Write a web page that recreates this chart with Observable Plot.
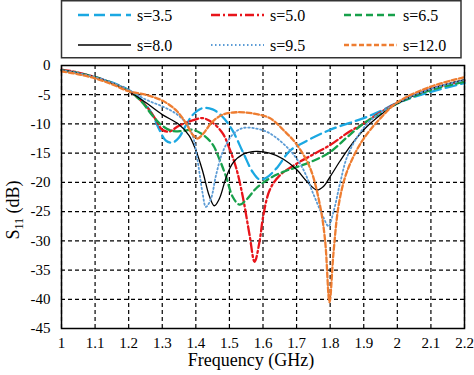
<!DOCTYPE html>
<html><head><meta charset="utf-8">
<script src="https://cdn.jsdelivr.net/npm/d3@7"></script>
<script src="https://cdn.jsdelivr.net/npm/@observablehq/plot@0.6"></script>
<style>
body{margin:0;background:#fff;}
#wrap{position:relative;width:474px;height:375px;overflow:hidden;}
#wrap svg{display:block;}
#legend{position:absolute;left:0;top:0;}
</style></head><body><div id="wrap"></div>
<script>
// ---- data (frequency in GHz, S11 in dB) ----
const seriesNames = ["s=3.5","s=5.0","s=6.5","s=8.0","s=9.5","s=12.0"];
const xTicks = [1,1.1,1.2,1.3,1.4,1.5,1.6,1.7,1.8,1.9,2,2.1,2.2];
const yTicks = [0,-5,-10,-15,-20,-25,-30,-35,-40,-45];

const f35 = [1.00,1.05,1.10,1.15,1.20,1.24,1.27,1.29,1.31,1.33,1.35,1.37,1.39,1.42,1.45,1.48,1.51,1.54,1.57,1.59,1.61,1.64,1.68,1.72,1.80,1.90,1.95,2.00,2.10,2.20];
const db35 = [-0.8,-1.3,-2.0,-2.9,-4.2,-6.0,-8.3,-10.8,-12.8,-13.2,-12.3,-10.3,-8.5,-7.3,-7.5,-8.8,-11.2,-14.8,-18.3,-19.5,-19.2,-17.6,-14.6,-13.2,-11.0,-9.0,-7.8,-6.4,-4.5,-3.0];

const f50 = [1.00,1.05,1.10,1.15,1.20,1.25,1.28,1.30,1.32,1.35,1.39,1.42,1.45,1.48,1.50,1.52,1.54,1.56,1.575,1.59,1.60,1.62,1.65,1.70,1.75,1.80,1.85,1.90,1.95,2.00,2.10,2.20];
const db50 = [-0.7,-1.2,-2.0,-3.0,-4.3,-6.8,-9.2,-11.0,-11.3,-10.3,-9.4,-9.0,-9.8,-11.6,-14.2,-17.5,-22.5,-29.0,-33.6,-30.0,-26.0,-21.3,-18.8,-16.8,-15.2,-13.6,-11.6,-9.9,-8.0,-6.4,-4.0,-2.6];

const f65 = [1.00,1.05,1.10,1.15,1.20,1.24,1.27,1.30,1.33,1.36,1.39,1.42,1.45,1.47,1.49,1.51,1.53,1.55,1.58,1.62,1.66,1.70,1.75,1.80,1.85,1.90,1.95,2.00,2.10,2.20];
const db65 = [-0.8,-1.3,-2.0,-3.0,-4.3,-6.3,-8.5,-10.3,-11.2,-11.2,-11.0,-11.8,-13.5,-16.0,-19.0,-22.5,-23.8,-23.0,-21.0,-19.3,-18.2,-17.4,-16.3,-14.8,-12.3,-9.9,-8.2,-6.5,-4.2,-2.8];

const f80 = [1.00,1.05,1.10,1.15,1.20,1.25,1.30,1.35,1.38,1.40,1.42,1.44,1.455,1.47,1.49,1.51,1.54,1.58,1.62,1.66,1.70,1.73,1.76,1.78,1.80,1.83,1.86,1.90,1.94,2.00,2.10,2.20];
const db80 = [-0.8,-1.3,-2.0,-3.0,-4.4,-6.3,-8.4,-10.1,-12.0,-14.5,-18.0,-22.3,-24.0,-22.8,-19.2,-16.7,-15.2,-14.7,-15.0,-16.0,-17.8,-19.8,-21.3,-20.7,-19.0,-16.3,-13.8,-11.0,-8.9,-6.5,-4.0,-2.4];

const f95 = [1.00,1.05,1.10,1.15,1.20,1.25,1.30,1.34,1.37,1.39,1.405,1.42,1.43,1.445,1.46,1.48,1.51,1.54,1.58,1.62,1.68,1.72,1.75,1.78,1.795,1.81,1.83,1.85,1.88,1.92,2.00,2.10,2.20];
const db95 = [-0.8,-1.3,-2.0,-2.9,-4.2,-5.8,-7.0,-8.2,-9.8,-11.9,-16.2,-21.8,-24.2,-22.8,-18.8,-14.8,-11.8,-10.7,-10.8,-11.6,-14.5,-17.8,-22.0,-26.0,-27.5,-25.0,-20.0,-15.7,-12.3,-9.4,-6.4,-4.0,-2.5];

const f120 = [1.00,1.05,1.10,1.15,1.20,1.25,1.30,1.34,1.37,1.39,1.405,1.42,1.45,1.48,1.52,1.57,1.62,1.66,1.70,1.74,1.77,1.785,1.798,1.81,1.825,1.845,1.87,1.90,1.95,2.00,2.10,2.20];
const db120 = [-1.0,-1.5,-2.2,-3.2,-4.4,-5.0,-6.0,-7.6,-9.8,-11.8,-12.5,-11.8,-9.6,-8.4,-8.0,-8.2,-9.0,-11.0,-13.5,-17.5,-24.0,-30.0,-40.5,-32.0,-24.0,-19.0,-15.5,-12.5,-9.0,-6.3,-3.6,-2.0];

// ---- styles ----
const seriesStyle = [
  {color:"#1ba8e2", dash:"11,5", width:2.3},
  {color:"#e8151b", dash:"9,3,2,3", width:2.3},
  {color:"#17a04a", dash:"7,4", width:2.3},
  {color:"#000000", dash:null, width:1.3},
  {color:"#5b9bd5", dash:"1.5,2.5", width:1.8},
  {color:"#ee7d31", dash:"5,2.5", width:2.3}
];
const freqs = [f35,f50,f65,f80,f95,f120];
const vals = [db35,db50,db65,db80,db95,db120];
const tables = seriesNames.map((n,i) => freqs[i].map((f,j) => ({f, db: vals[i][j], s: n})));

// ---- pick an installed Times-like font and scale sizes to Times metrics ----
const ctx = document.createElement("canvas").getContext("2d");
function hasFont(name){
  const s = "Frequency (GHz) 0123456789 s=3.5 WMiil";
  for (const base of ["monospace","sans-serif","serif"]) {
    ctx.font = `20px ${base}`; const w0 = ctx.measureText(s).width;
    ctx.font = `20px "${name}", ${base}`; const w1 = ctx.measureText(s).width;
    if (Math.abs(w0 - w1) > 0.5) return true;
  }
  return false;
}
const candidates = ["Liberation Serif","Tinos","Times New Roman","Nimbus Roman","Nimbus Roman No9 L","FreeSerif","Noto Serif","DejaVu Serif"];
const picked = candidates.find(hasFont);
const FONT = picked ? `"${picked}", serif` : "serif";
ctx.font = `18px ${FONT}`;
const measured = ctx.measureText("Frequency (GHz)").width;
const k = Math.min(1.15, Math.max(0.7, 126.5 / measured));
const fs = v => +(v * k).toFixed(2);

const wrap = document.getElementById("wrap");

// ---- plot ----
const lines = tables.map((t,i) => Plot.line(t, {
  x:"f", y:"db", curve:"catmull-rom",
  stroke: seriesStyle[i].color, strokeWidth: seriesStyle[i].width,
  strokeDasharray: seriesStyle[i].dash || undefined
}));

const plot = Plot.plot({
  width: 474, height: 375,
  marginLeft: 61, marginRight: 10, marginTop: 65, marginBottom: 47,
  x: {domain:[1,2.2]},
  y: {domain:[-45,0]},
  style: {fontFamily: FONT, fontSize: fs(15)+"px", color:"#000", background:"#fff"},
  marks: [
    Plot.gridX(xTicks, {stroke:"#000", strokeOpacity:1, strokeDasharray:"4,3", strokeWidth:1.2}),
    Plot.gridY(yTicks, {stroke:"#000", strokeOpacity:1, strokeDasharray:"4,3", strokeWidth:1.2}),
    ...lines,
    Plot.frame({stroke:"#000", strokeWidth:1.5}),
    Plot.axisX(xTicks, {tickSize:0, tickPadding:9, tickFormat:d=>String(d), label:null, fontSize:fs(15)}),
    Plot.axisY(yTicks, {tickSize:0, tickPadding:11, tickFormat:d=>String(d), label:null, fontSize:fs(15)})
  ]
});
wrap.appendChild(plot);

const ps = d3.select(plot);
ps.append("text").attr("x",251).attr("y",366).attr("text-anchor","middle")
  .attr("font-family",FONT).attr("font-size",fs(18)).attr("fill","#000").text("Frequency (GHz)");
const yl = ps.append("text").attr("transform","translate(19,210) rotate(-90)")
  .attr("text-anchor","middle").attr("font-family",FONT).attr("font-size",fs(18)).attr("fill","#000");
yl.append("tspan").text("S");
yl.append("tspan").attr("font-size",fs(12)).attr("dy",4).text("11");
yl.append("tspan").attr("dy",-4).text(" (dB)");

// ---- legend (drawn above the plot area) ----
const leg = d3.select(wrap).append("svg").attr("id","legend").attr("width",474).attr("height",60)
  .style("font-family",FONT);
leg.append("rect").attr("x",61.5).attr("y",0.75).attr("width",399.5).attr("height",57)
  .attr("fill","#fff").attr("stroke","#333").attr("stroke-width",1.5);
const colX = [78,211,344];
const rowY = [15,45];
seriesNames.forEach((n,i) => {
  const cx = colX[i%3], cy = rowY[Math.floor(i/3)], st = seriesStyle[i];
  leg.append("line").attr("x1",cx).attr("x2",cx+53).attr("y1",cy).attr("y2",cy)
    .attr("stroke",st.color).attr("stroke-width",st.width)
    .attr("stroke-dasharray",st.dash);
  leg.append("text").attr("x",cx+59).attr("y",cy+5.5).attr("font-size",fs(16)).attr("fill","#000").text(n);
});
</script></body></html>
